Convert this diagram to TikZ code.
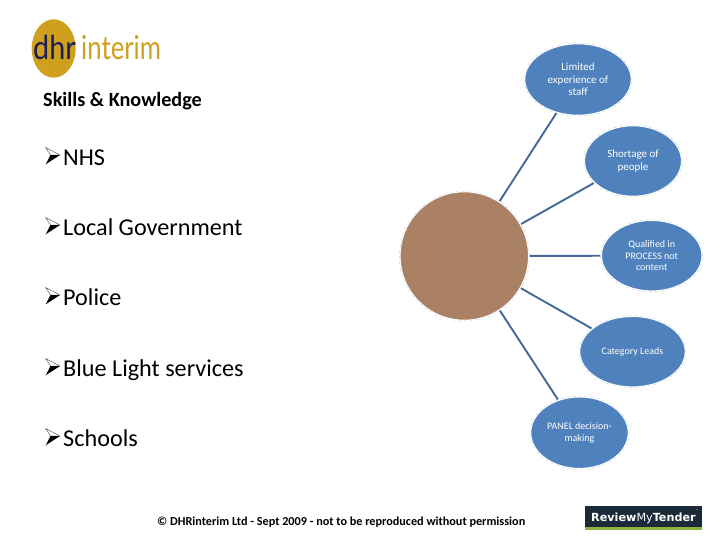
\documentclass[tikz,border=0pt]{standalone}
\usepackage{fontspec}
\setmainfont{Carlito}
\newfontfamily\dhrfont[FakeStretch=0.87]{Lato}
\newfontfamily\interimfont[FakeStretch=0.78]{Lato}
\newfontfamily\brandfont{DejaVu Sans}
\usetikzlibrary{shapes.geometric}
\definecolor{bubbleblue}{HTML}{4F81BD}
\definecolor{hubbrown}{HTML}{AB8165}
\definecolor{linkblue}{HTML}{416A96}
\definecolor{halogrey}{HTML}{C9D8E6}
\definecolor{logogold}{HTML}{CFA01E}
\definecolor{logonavy}{HTML}{1D1B5A}
\definecolor{banddark}{HTML}{1B2A38}
\definecolor{bandgreen}{HTML}{8CB33A}
\def\px#1#2{\fontsize{#1}{#2}\selectfont}
\def\arrowbullet(#1){\draw[line width=0.4pt, black!70, shift={(#1)}] (15, -10) -- (0.7, -17.4) -- (5.5, -10) -- cycle;
	\fill[shift={(#1)}] (15, -10) -- (0.7, -0.7) -- (5.5, -10) -- cycle;}
\tikzset{
	bubble/.style={ellipse, inner sep=0pt, align=center, text=white, font=\px{11}{12.4},
		draw=halogrey, dashed, line width=0.5pt,
		preaction={fill=bubbleblue, draw=white, solid, line width=2.6pt}},
	smallbubble/.style={bubble, font=\px{10}{11.4}},
	item/.style={anchor=base west, inner sep=0pt, font=\px{24.2}{25}},
	link/.style={draw=linkblue, line width=1.9pt}
}
\begin{document}
\begin{tikzpicture}[x=1pt, y=-1pt]
		\useasboundingbox[fill=white] (0, 0) rectangle (728, 546);

		%%%%% LOGO %%%%%
		\fill[logogold] (53.7, 48.5) ellipse (22 and 29.2);
		\node[anchor=base west, inner sep=0pt, text=logonavy, font=\dhrfont\px{33}{33}] (dhr) at (33, 59.3) {dhr};
		\node[anchor=base west, inner sep=0pt, text=logogold, font=\interimfont\px{33}{33}] (interim) at (81, 59.3) {interim};

		%%%%% LIST %%%%%
		\node[anchor=base west, inner sep=0pt, font=\bfseries\px{20.2}{21}] (heading) at (43, 106) {Skills \& Knowledge};
		\arrowbullet(45, 165)
		\node[item] (nhs) at (63, 165) {NHS};
		\arrowbullet(45, 235)
		\node[item] (localgov) at (63, 235) {Local Government};
		\arrowbullet(45, 305)
		\node[item] (police) at (63, 305) {Police};
		\arrowbullet(45, 376)
		\node[item] (bluelight) at (63, 376) {Blue Light services};
		\arrowbullet(45, 446)
		\node[item] (schools) at (63, 446) {Schools};

		%%%%% HUB %%%%%
		\node[bubble, minimum width=130, minimum height=130,
			preaction={fill=hubbrown, draw=white, solid, line width=2.6pt}] (hub) at (464.3, 256) {};

		\node[bubble, minimum width=108, minimum height=73] (limited) at (578, 79.5) {Limited\\experience of\\staff};
		\node[bubble, minimum width=98.5, minimum height=72] (shortage) at (633, 161) {Shortage of\\people};
		\node[smallbubble, minimum width=102, minimum height=72] (qualified) at (651.7, 255.7) {Qualified in\\PROCESS not\\content};
		\node[smallbubble, minimum width=107, minimum height=72] (category) at (632.5, 351.7) {Category Leads};
		\node[smallbubble, minimum width=99, minimum height=73] (panel) at (579.5, 432.7) {PANEL decision-\\making};

		\draw[link] (hub) -- (limited);
		\draw[link] (hub) -- (shortage);
		\draw[link] (hub) -- (qualified);
		\draw[link] (hub) -- (category);
		\draw[link] (hub) -- (panel);

		%%%%% FOOTER %%%%%
		\node[anchor=base west, inner sep=0pt, font=\bfseries\px{12.2}{12}] (footer) at (157, 525) {© DHRinterim Ltd - Sept 2009 - not to be reproduced without permission};

		\fill[banddark] (585, 506) rectangle (702, 526.5);
		\fill[bandgreen] (585, 526.5) rectangle (702, 530);
		\node[anchor=base west, inner sep=0pt, text=white, font=\brandfont\px{11.2}{12}] (brand) at (591, 521) {\textbf{Review}My\textbf{Tender}};
		\node[anchor=base west, inner sep=0pt, text=white, font=\px{3}{3}] (trademark) at (696, 511) {™};
\end{tikzpicture}
\end{document}
